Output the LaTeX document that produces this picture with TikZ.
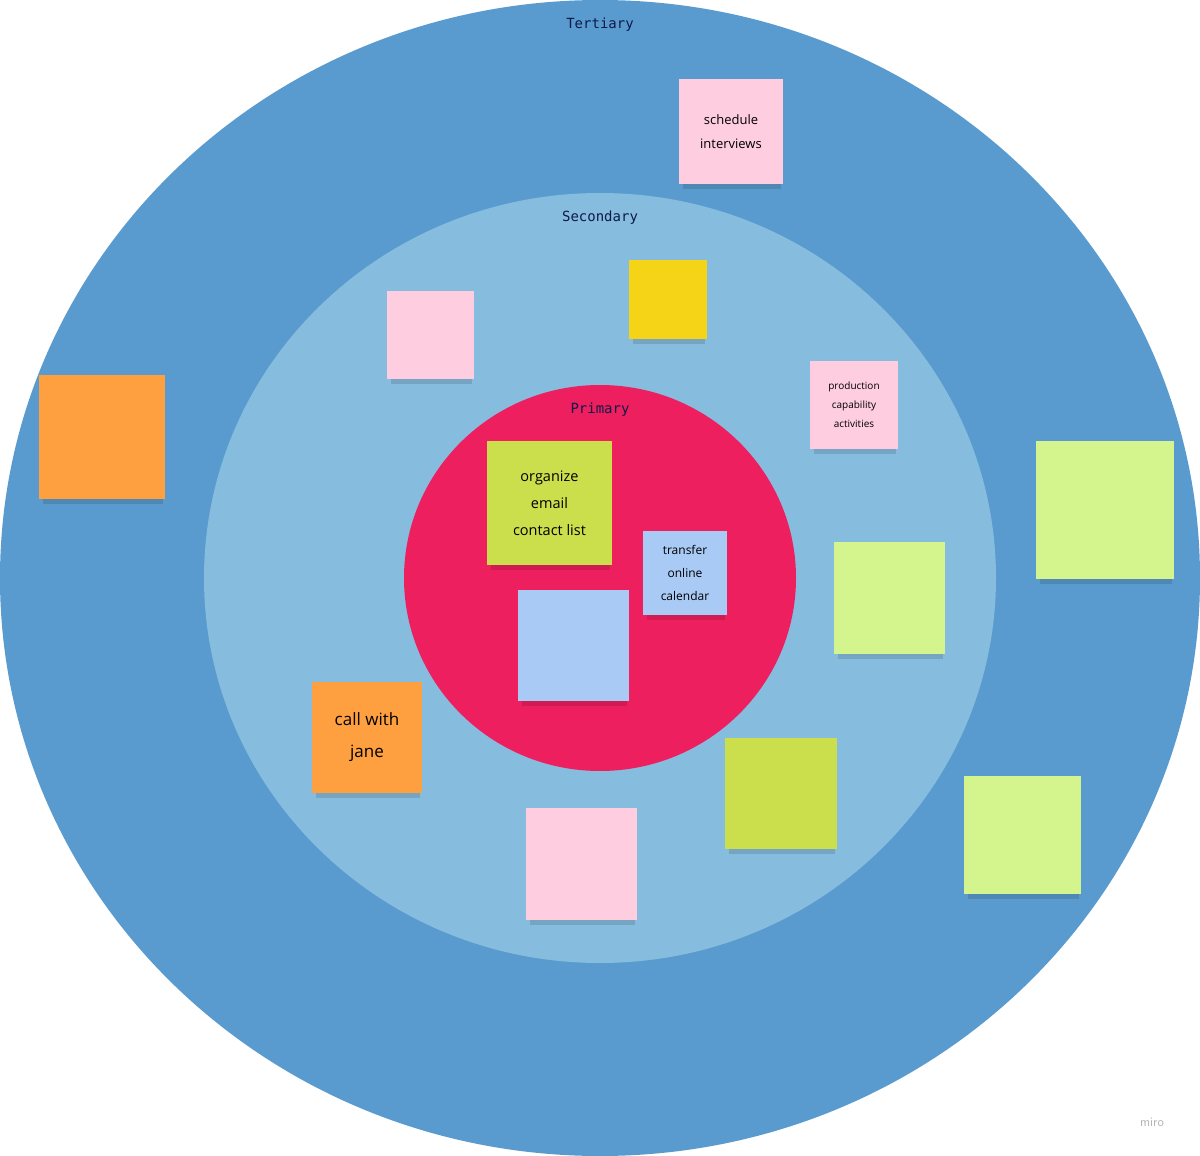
\documentclass[tikz,border=0pt]{standalone}
\usepackage{fontspec}
\setmainfont{Open Sans}
\setmonofont{DejaVu Sans Mono}
\definecolor{tert}{HTML}{5A9BCF}
\definecolor{sec}{HTML}{86BCDE}
\definecolor{prim}{HTML}{EE1F5E}
\definecolor{npink}{HTML}{FECDE0}
\definecolor{nyel}{HTML}{F5D316}
\definecolor{norg}{HTML}{FFA040}
\definecolor{nlg}{HTML}{D4F58E}
\definecolor{ngr}{HTML}{CBDF4C}
\definecolor{nblue}{HTML}{A9CAF5}
\definecolor{lbl}{HTML}{0E1A4A}
\tikzset{
  ring label/.style={font=\ttfamily\fontsize{14}{16}\selectfont, text=lbl},
  note/.style={align=center, text=black, inner sep=0pt},
}
\newcommand{\sticky}[6]{% name, x1,y1,x2,y2, color
  \fill[black,opacity=0.12] (#2+4,#5-3) rectangle (#4-2,#5+5);
  \fill[#6] (#2,#3) rectangle (#4,#5);
  \coordinate (#1) at ({(#2+#4)/2},{(#3+#5)/2});
}
\begin{document}
\begin{tikzpicture}[x=1pt,y=-1pt]
\useasboundingbox (0,0) rectangle (1200,1156);
\fill[white] (0,0) rectangle (1200,1156);
\fill[tert] (600,578) ellipse [x radius=600, y radius=578];
\fill[sec] (600,578) ellipse [x radius=396, y radius=385];
\fill[prim] (600,578) ellipse [x radius=196, y radius=193];
\node[ring label] (t) at (600,25) {Tertiary};
\node[ring label] (s) at (600,218) {Secondary};
\node[ring label] (p) at (600,410) {Primary};
\sticky{n1}{679}{79}{783}{184}{npink}
\node[note,font=\fontsize{13}{24}\selectfont] at (n1) {schedule\\interviews};
\sticky{n2}{629}{260}{707}{339}{nyel}
\sticky{n3}{387}{291}{474}{379}{npink}
\sticky{n4}{810}{361}{898}{449}{npink}
\node[note,font=\fontsize{10}{19}\selectfont] at (n4) {production\\capability\\activities};
\sticky{n5}{39}{375}{165}{499}{norg}
\sticky{n6}{1036}{441}{1174}{579}{nlg}
\sticky{n7}{487}{441}{612}{565}{ngr}
\node[note,font=\fontsize{14.5}{27}\selectfont] at (n7) {organize\\email\\contact list};
\sticky{n8}{643}{531}{727}{615}{nblue}
\node[note,font=\fontsize{12}{23}\selectfont] at (n8) {transfer\\online\\calendar};
\sticky{n9}{518}{590}{629}{701}{nblue}
\sticky{n10}{834}{542}{945}{654}{nlg}
\sticky{n11}{312}{682}{422}{793}{norg}
\node[note,font=\fontsize{17}{32}\selectfont] at (n11) {call with\\jane};
\sticky{n12}{725}{738}{837}{849}{ngr}
\sticky{n13}{964}{776}{1081}{894}{nlg}
\sticky{n14}{526}{808}{637}{920}{npink}
\node[text=gray!60, font=\fontsize{13}{15}\selectfont\sffamily] (m) at (1152,1122) {miro};
\end{tikzpicture}
\end{document}
